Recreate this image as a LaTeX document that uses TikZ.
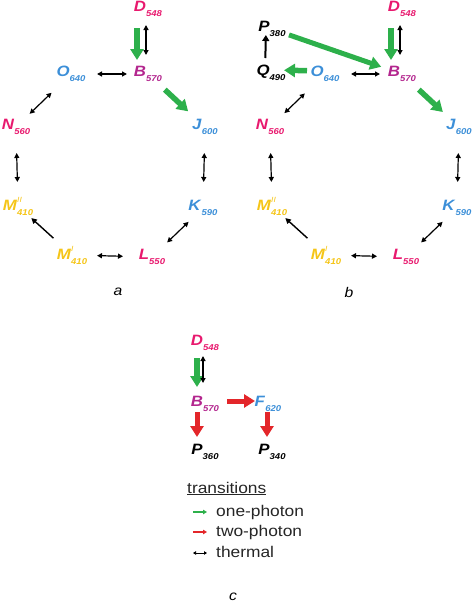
\documentclass[tikz,border=0pt]{standalone}
\usepackage{fontspec}
\setmainfont{Liberation Sans}[FakeStretch=1.12]
\usepackage{tikz}
\usepackage{xcolor}
\usetikzlibrary{arrows.meta}
\definecolor{pinkst}{HTML}{E8196E}
\definecolor{purplest}{HTML}{B3268E}
\definecolor{bluest}{HTML}{3C8FD8}
\definecolor{yellowst}{HTML}{F5C518}
\definecolor{greenph}{HTML}{2DB04B}
\definecolor{redph}{HTML}{E3262A}
\newcommand{\stlab}[2]{\textbf{\textit{#1}}\raisebox{-4.5pt}{\fontsize{8.5}{8.5}\selectfont\textbf{\textit{#2}}}}
\newcommand{\stlabm}[3]{\textbf{\textit{#1}}\rlap{\raisebox{8.5pt}{\fontsize{7.5}{7.5}\selectfont\textit{#3}}}\raisebox{-4.5pt}{\fontsize{8.5}{8.5}\selectfont\textbf{\textit{#2}}}}

\begin{document}
\begin{tikzpicture}[x=1pt,y=-1pt,
  st/.style={font=\fontsize{15}{15}\selectfont, inner sep=0pt},
  one/.style={draw=greenph, line width=5.5pt, -{Triangle[width=13pt,length=11pt]}},
  two/.style={draw=redph, line width=5pt, -{Triangle[width=13pt,length=11pt]}},
  th/.style={line width=1.2pt, {Triangle[width=5pt,length=5pt]}-{Triangle[width=5pt,length=5pt]}},
  thr/.style={line width=1.4pt, -{Triangle[width=5.5pt,length=5.5pt]}},
  lg/.style={anchor=base west, inner sep=0pt, text=black!85, font=\fontsize{15.5}{15.5}\selectfont},
  lbl/.style={font=\fontsize{14}{14}\selectfont\itshape}]
\useasboundingbox (0,0) rectangle (474,605);
\node[st, text=pinkst] (Da) at (148,9) {\stlab{D}{548}};
\node[st, text=purplest] (Ba) at (148,74) {\stlab{B}{570}};
\node[st, text=bluest] (Oa) at (71,74) {\stlab{O}{640}};
\node[st, text=pinkst] (Na) at (16,127) {\stlab{N}{560}};
\node[st, text=bluest] (Ja) at (205,127) {\stlab{J}{600}};
\node[st, text=yellowst] (Mppa) at (18,206) {\stlabm{M}{410}{II}};
\node[st, text=bluest] (Ka) at (203,208) {\stlab{K}{590}};
\node[st, text=yellowst] (Mpa) at (72,255) {\stlabm{M}{410}{I}};
\node[st, text=pinkst] (La) at (152,257) {\stlab{L}{550}};
\draw[one, shorten <=19pt, shorten >=14pt] ([xshift=-11pt]Da.center) -- ([xshift=-11pt]Ba.center);
\draw[th, shorten <=16pt, shorten >=19pt] ([xshift=-2pt]Da.center) -- ([xshift=-2pt]Ba.center);
\draw[th, shorten <=26pt, shorten >=21pt] (Oa.center) -- (Ba.center);
\draw[one, shorten <=23pt, shorten >=23pt] (Ba.center) -- (Ja.center);
\draw[th, shorten <=27pt, shorten >=19pt] (Oa.center) -- (Na.center);
\draw[th, shorten <=26pt, shorten >=24pt] (Na.center) -- (Mppa.center);
\draw[th, shorten <=26pt, shorten >=26pt] (Ja.center) -- (Ka.center);
\draw[th, shorten <=20pt, shorten >=21pt] (Ka.center) -- (La.center);
\draw[th, shorten <=25pt, shorten >=29pt] (Mpa.center) -- (La.center);
\draw[thr, shorten <=25pt, shorten >=18pt] (Mpa.center) -- (Mppa.center);
\node[lbl] (capa) at (118,292) {a};
\node[st, text=pinkst] (Db) at (402,9) {\stlab{D}{548}};
\node[st, text=purplest] (Bb) at (402,74) {\stlab{B}{570}};
\node[st, text=bluest] (Ob) at (325,74) {\stlab{O}{640}};
\node[st] (Pb) at (272,29) {\stlab{P}{380}};
\node[st] (Qb) at (271,73) {\stlab{Q}{490}};
\node[st, text=pinkst] (Nb) at (270,127) {\stlab{N}{560}};
\node[st, text=bluest] (Jb) at (459,127) {\stlab{J}{600}};
\node[st, text=yellowst] (Mppb) at (272,206) {\stlabm{M}{410}{II}};
\node[st, text=bluest] (Kb) at (457,208) {\stlab{K}{590}};
\node[st, text=yellowst] (Mpb) at (326,255) {\stlabm{M}{410}{I}};
\node[st, text=pinkst] (Lb) at (406,257) {\stlab{L}{550}};
\draw[one, shorten <=19pt, shorten >=14pt] ([xshift=-11pt]Db.center) -- ([xshift=-11pt]Bb.center);
\draw[th, shorten <=16pt, shorten >=19pt] ([xshift=-2pt]Db.center) -- ([xshift=-2pt]Bb.center);
\draw[one, line width=5pt, shorten <=18pt, shorten >=22pt] (Pb.center) -- (Bb.center);
\draw[thr, line width=2pt, -{Triangle[width=7pt,length=6pt]}, shorten <=15pt, shorten >=6pt] ([xshift=-6pt]Qb.center) -- ([xshift=-6pt]Pb.center);
\draw[one, shorten <=18pt, shorten >=13pt] ([yshift=3pt]Ob.center) -- ([yshift=3pt]Qb.center);
\draw[th, shorten <=26pt, shorten >=22pt] (Ob.center) -- (Bb.center);
\draw[one, shorten <=23pt, shorten >=22pt] (Bb.center) -- (Jb.center);
\draw[th, shorten <=28pt, shorten >=20pt] (Ob.center) -- (Nb.center);
\draw[th, shorten <=26pt, shorten >=24pt] (Nb.center) -- (Mppb.center);
\draw[th, shorten <=26pt, shorten >=26pt] (Jb.center) -- (Kb.center);
\draw[th, shorten <=20pt, shorten >=21pt] (Kb.center) -- (Lb.center);
\draw[th, shorten <=25pt, shorten >=29pt] (Mpb.center) -- (Lb.center);
\draw[thr, shorten <=25pt, shorten >=18pt] (Mpb.center) -- (Mppb.center);
\node[lbl] (capb) at (349,292) {b};
\node[st, text=pinkst] (Dc) at (205,343) {\stlab{D}{548}};
\node[st, text=purplest] (Bc) at (205,404) {\stlab{B}{570}};
\node[st, text=bluest] (Fc) at (268,404) {\stlab{F}{620}};
\node[st] (Pca) at (205,452) {\stlab{P}{360}};
\node[st] (Pcb) at (272,452) {\stlab{P}{340}};
\draw[one, shorten <=15pt, shorten >=17pt] ([xshift=-8pt]Dc.center) -- ([xshift=-8pt]Bc.center);
\draw[th, shorten <=13pt, shorten >=21pt] ([xshift=-2pt]Dc.center) -- ([xshift=-2pt]Bc.center);
\draw[two, shorten <=22pt, shorten >=13pt] ([yshift=3pt]Bc.center) -- ([yshift=3pt]Fc.center);
\draw[two, shorten <=8pt, shorten >=15pt] ([xshift=-8pt]Bc.center) -- ([xshift=-8pt]Pca.center);
\draw[two, shorten <=8pt, shorten >=15pt] ([xshift=-1pt]Fc.center) -- ([xshift=-1pt]Fc.center |- Pcb.center);
\node[lg] (ttl) at (187,493) {\underline{transitions}};
\node[lg] (lgone) at (216,516) {one-photon};
\node[lg] (lgtwo) at (216,536) {two-photon};
\node[lg] (lgth) at (216,557) {thermal};
\draw[greenph, line width=1.3pt, -{Triangle[width=4.5pt,length=4pt]}] ([shift={(-23pt,4pt)}]lgone.base west) -- ([shift={(-9pt,4pt)}]lgone.base west);
\draw[redph, line width=1.3pt, -{Triangle[width=4.5pt,length=4pt]}] ([shift={(-23pt,4pt)}]lgtwo.base west) -- ([shift={(-9pt,4pt)}]lgtwo.base west);
\draw[line width=1pt, {Triangle[width=3.5pt,length=3pt]}-{Triangle[width=3.5pt,length=3pt]}] ([shift={(-23pt,4pt)}]lgth.base west) -- ([shift={(-9pt,4pt)}]lgth.base west);
\node[lbl] (capc) at (233,597) {c};
\end{tikzpicture}
\end{document}
